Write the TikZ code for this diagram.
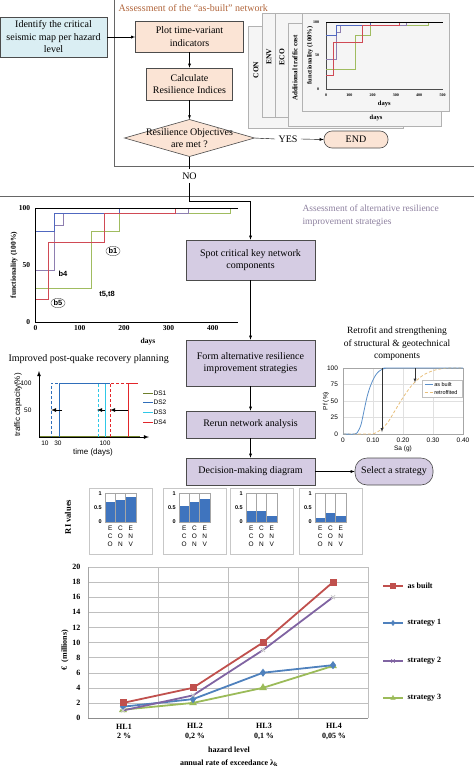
\documentclass[tikz,border=0pt]{standalone}
\usepackage{fontspec}
\setmainfont{Liberation Serif}
\setsansfont{Liberation Sans}
\usetikzlibrary{shapes.geometric, calc, plotmarks, positioning}
\definecolor{peach}{HTML}{FBE4D5}
\definecolor{skyfill}{HTML}{DAEEF3}
\definecolor{lilac}{HTML}{D5CCE3}
\definecolor{rustbrown}{HTML}{B0643A}
\definecolor{greyviolet}{HTML}{8C7F9E}
\definecolor{dsone}{HTML}{6E7F2B}
\definecolor{dstwo}{HTML}{2F6EBA}
\definecolor{dsthree}{HTML}{2EC8E8}
\definecolor{dsfour}{HTML}{E3262A}
\definecolor{curvered}{HTML}{D04A55}
\definecolor{curveblue}{HTML}{5068C0}
\definecolor{curvegreen}{HTML}{A0BC60}
\definecolor{curvepurple}{HTML}{8E7EB0}
\definecolor{asbuiltred}{HTML}{C0504D}
\definecolor{stratblue}{HTML}{4F81BD}
\definecolor{stratpurple}{HTML}{8064A2}
\definecolor{stratgreen}{HTML}{9BBB59}
\definecolor{ribar}{HTML}{3F74BE}
\definecolor{fragblue}{HTML}{5B8FC8}
\definecolor{fragtan}{HTML}{E8BF7A}
% recovery step curves (days, functionality %)
\newcommand\stepRed{(0,20) -- (30,20) -- (30,70) -- (155,70) -- (155,95) -- (315,95) -- (315,100)}
\newcommand\stepBlue{(0,80) -- (42,80) -- (42,95) -- (190,95) -- (190,100)}
\newcommand\stepPurple{(0,45) -- (42,45) -- (42,85) -- (63,85) -- (63,95) -- (345,95) -- (345,100)}
\newcommand\stepGreen{(0,30) -- (125,30) -- (125,80) -- (190,80) -- (190,95) -- (440,95) -- (440,100)}
\newcommand\fsz[1]{\fontsize{#1}{#1}\selectfont}

\begin{document}
\begin{tikzpicture}[x=1pt, y=-1pt, >=latex,
    flow/.style={draw=black!70, semithick, align=center, inner sep=1pt,
      font=\fontsize{10}{12.5}\selectfont},
    asbox/.style={flow, fill=peach},
    altbox/.style={flow, fill=lilac},
    sheet/.style={draw=black!30, fill=black!4},
    framing/.style={draw=black!60, semithick},
    axlbl/.style={font=\bfseries\fontsize{7.5}{9}\selectfont},
    smalltick/.style={font=\sffamily\fontsize{6.5}{7.5}\selectfont},
    chartlbl/.style={font=\bfseries\fontsize{8}{9.5}\selectfont},
    series/.style={line width=1.8pt},
  ]
  \useasboundingbox (0,0) rectangle (474,772);

  % ---- assessment of the as-built network
  \draw[framing] (114,0) -- (114,166) -- (474,166);
  \node[anchor=west, text=rustbrown, font=\fsz{10}] (astitle) at (115,8)
    {Assessment of the “as-built” network};

  \node[flow, fill=skyfill, minimum width=107, minimum height=40] (seis) at (53.5,37)
    {Identify the critical\\seismic map per hazard\\level};
  \node[asbox, minimum width=108, minimum height=31] (plotind) at (189.5,36.5)
    {Plot time-variant\\indicators};
  \node[asbox, minimum width=86, minimum height=32] (calc) at (189.5,84)
    {Calculate\\Resilience Indices};
  \path[draw=black!70, semithick, fill=peach]
    (124.5,138) -- (189.5,119.5) -- (254.5,138) -- (189.5,156.5) -- cycle;
  \node[minimum width=130, minimum height=37, inner sep=0, align=center,
    font=\fontsize{10}{12.5}\selectfont] (obj) at (189.5,138)
    {Resilience Objectives\\are met ?};
  \node[font=\fsz{10}] (yes) at (288,139) {YES};
  \node[asbox, rounded corners=8, minimum width=64, minimum height=17] (end) at (356,139.5) {END};

  \draw[->] (seis.east) -- (seis.east -| plotind.west);
  \draw[->] (plotind) -- (calc);
  \draw[->] (calc) -- (obj.north);
  \draw (obj.east) -- (yes.west);
  \draw[->] (yes.east) -- (end.west);

  % stacked indicator sheets
  \draw[sheet] (248,26) rectangle (403,128);
  \draw[sheet] (262,13) rectangle (420,117);
  \draw[sheet] (275,13) rectangle (425,117);
  \draw[sheet] (288,23) rectangle (441,126);
  \draw[sheet] (302,13) rectangle (449,111);
  \node[rotate=90, font=\bfseries\fsz{7.5}] (concap) at (256,70) {CON};
  \node[rotate=90, font=\bfseries\fsz{7.5}] (envcap) at (269,57) {ENV};
  \node[rotate=90, font=\bfseries\fsz{7.5}] (ecocap) at (282,57) {ECO};
  \node[rotate=90, font=\bfseries\fsz{7}] (costcap) at (295,68) {Additional traffic cost};
  \node[font=\bfseries\fsz{6.5}] (costdays) at (376,118) {days};
  \begin{scope}[shift={(326,89)}, x=0.233pt, y=0.67pt]
    \draw[black!70] (0,100) -- (0,0) -- (502,0);
    \draw[curvegreen] \stepGreen;
    \draw[curvepurple] \stepPurple;
    \draw[curveblue] \stepBlue;
    \draw[curvered] \stepRed;
    \draw[black] (0,100) -- (502,100);
    \foreach \d in {0,100,...,500}
      \node[font=\bfseries\fsz{4}] at (\d,-9) {\d};
    \foreach \p in {0,50,100}
      \node[font=\bfseries\fsz{4}, anchor=east] at (-14,\p) {\p};
    \node[font=\bfseries\fsz{6.5}] at (250,-22) {days};
    \node[rotate=90, font=\bfseries\fsz{6.5}] at (-68,50) {functionality (100\%)};
  \end{scope}

  % ---- assessment of alternative strategies
  \draw[framing] (0,196) -- (474,196);
  \node[anchor=north west, text=greyviolet, align=left, font=\fontsize{9.5}{12.5}\selectfont]
    (alttitle) at (299,201.5) {Assessment of alternative resilience\\improvement strategies};

  \node[font=\fsz{10}] (no) at (189.5,176) {NO};
  \node[altbox, minimum width=129, minimum height=40] (spot) at (250.5,260)
    {Spot critical key network\\components};
  \node[altbox, minimum width=129, minimum height=46] (form) at (250.5,363)
    {Form alternative resilience\\improvement strategies};
  \node[altbox, minimum width=129, minimum height=27] (rerun) at (250.5,424.5)
    {Rerun network analysis};
  \node[altbox, minimum width=129, minimum height=27] (decide) at (250.5,471.5)
    {Decision-making diagram};
  \node[altbox, rounded corners=12, minimum width=78, minimum height=27] (select) at (394,471.5)
    {Select a strategy};

  \coordinate (nobend) at (189.5,201);
  \draw (obj.south) -- (no.north);
  \draw[->] (no.south) -- (nobend) -| (spot.north);
  \draw[->] (spot) -- (form);
  \draw[->] (form) -- (rerun);
  \draw[->] (rerun) -- (decide);
  \draw[->] (decide) -- (select);

  % functionality of critical components
  \begin{scope}[shift={(35.5,322)}, x=0.443pt, y=1.14pt]
    \draw[curvegreen, semithick] \stepGreen;
    \draw[curvepurple, semithick] \stepPurple;
    \draw[curveblue, semithick] \stepBlue;
    \draw[curvered, semithick] \stepRed;
    \draw[black, semithick] (0,100) -- (457,100);
    \draw[black, semithick] (0,100) -- (0,0) -- (457,0);
    \foreach \d in {0,100,...,400}
      \node[axlbl] at (\d,-5.5) {\d};
    \foreach \p in {0,50,100}
      \node[axlbl, anchor=east] at (-4,\p) {\p};
    \node[axlbl] at (254,-17) {days};
    \node[rotate=90, axlbl] at (-48.5,50) {functionality (100\%)};
  \end{scope}
  \node[draw=black!70, ellipse, inner sep=0.6pt, font=\bfseries\sffamily\fsz{7.5}] (bone) at (113,251) {b1};
  \node[font=\bfseries\sffamily\fsz{7.5}] (bfour) at (63,274) {b4};
  \node[font=\bfseries\sffamily\fsz{7.5}] (tfive) at (107,294) {t5,t8};
  \node[draw=black!70, ellipse, inner sep=0.6pt, font=\bfseries\sffamily\fsz{7.5}] (bfive) at (58,303) {b5};

  % recovery planning
  \node[anchor=west, font=\fsz{10}] (rectitle) at (5,359) {Improved post-quake recovery planning};
  \draw[dsthree, thick] (59,437) -- (98,437);
  \draw[dsone, thick] (39,436.5) -- (140,436.5);
  \draw[dstwo, thick, densely dashed] (39,437) -- (51,437) -- (51,383) -- (59,383);
  \draw[dstwo, thick] (59,437) -- (59,383) -- (100,383);
  \draw[dsthree, thick, densely dashed] (98,437) -- (98,383);
  \draw[dsthree, thick] (105,437) -- (105,383);
  \draw[dsfour, thick, densely dashed] (110,437) -- (110,383) -- (128,383);
  \draw[dsfour, thick] (128,437) -- (128,383) -- (138,383);
  \draw[dstwo, thick] (100,383) -- (110,383);
  \draw[thick, ->] (39,437) -- (39,371);
  \draw[thick, ->] (39,437) -- (149,437);
  \draw[thick, ->] (62,410) -- (51,410);
  \draw[thick, ->] (105,410) -- (97,410);
  \draw[thick, ->] (128,410) -- (110,410);
  \node[smalltick, anchor=east] at (35,383) {100};
  \node[smalltick, anchor=east] at (35,410) {50};
  \node[smalltick] at (45,443.5) {10};
  \node[smalltick] at (58,443.5) {30};
  \node[smalltick] at (105,443.5) {100};
  \node[font=\sffamily\fsz{8}] (timelbl) at (93,452) {time (days)};
  \node[rotate=90, font=\sffamily\fsz{8}] (caplbl) at (18,405) {traffic capacity(\%)};
  \foreach \ly/\col/\ds in {393/dsone/DS1, 402/dstwo/DS2, 412/dsthree/DS3, 422/dsfour/DS4} {
    \draw[\col, thick] (143,\ly) -- (153,\ly);
    \node[smalltick, anchor=west, inner sep=0.5pt] at (153,\ly) {\ds};
  }

  % fragility curves
  \node[align=center, font=\fontsize{9.5}{12.5}\selectfont] (rtitle) at (397,344)
    {Retrofit and strengthening\\of structural \& geotechnical\\components};
  \begin{scope}[shift={(343,434)}, x=300pt, y=0.66pt]
    \foreach \s in {0.1,0.2,0.3} \draw[black!12] (\s,0) -- (\s,100);
    \foreach \p in {25,50,75} \draw[black!12] (0,\p) -- (0.4,\p);
    \draw[black!35] (0,0) rectangle (0.4,100);
    \draw[fragtan, thick, densely dashed] plot[smooth] coordinates {(0,0) (0.09,0) (0.11,2) (0.13,8)
      (0.15,18) (0.17,33) (0.19,48) (0.21,62) (0.23,74) (0.25,83) (0.27,90) (0.30,96)
      (0.33,99) (0.36,100) (0.40,100)};
    \draw[fragblue, thick] plot[smooth] coordinates {(0,0) (0.04,0) (0.05,4) (0.06,14)
      (0.07,35) (0.08,56) (0.09,71) (0.10,82) (0.11,90) (0.12,95) (0.13,98) (0.14,99.5)
      (0.16,100) (0.40,100)};
    \draw[->, black!80] (0.13,100) -- (0.13,3);
    \draw[->, black!80] (0.24,100) -- (0.24,78);
    \foreach \s/\t in {0/0, 0.1/0.10, 0.2/0.20, 0.3/0.30, 0.4/0.40}
      \node[smalltick] at (\s,-10) {\t};
    \foreach \p in {0,25,50,75,100}
      \node[smalltick, anchor=east] at (-0.005,\p) {\p};
    \node[smalltick] at (0.2,-23) {Sa (g)};
    \node[smalltick, rotate=90] at (-0.057,50) {Pf (\%)};
    \draw[black!25, fill=white] (0.265,82) rectangle (0.398,56);
    \draw[fragblue, thick] (0.272,75) -- (0.3,75);
    \draw[fragtan, thick, densely dashed] (0.272,63) -- (0.3,63);
    \node[font=\sffamily\fsz{5.5}, anchor=west, inner sep=0.5pt] at (0.302,75) {as built};
    \node[font=\sffamily\fsz{5.5}, anchor=west, inner sep=0.5pt] at (0.302,63) {retroffited};
  \end{scope}

  % RI values per strategy
  \node[rotate=90, font=\bfseries\fsz{8.5}] (rilbl) at (68,517) {RI values};
  \foreach \px/\ea/\eb/\ec in {89/0.7/0.78/0.88, 163/0.55/0.7/0.8, 230/0.4/0.4/0.2, 299/0.15/0.3/0.2} {
    \draw[black!22] (\px,488) rectangle ++(63,66);
    \fill[ribar] ({\px+16},522) rectangle ++(10.33,{-28.5*\ea});
    \fill[ribar] ({\px+26.33},522) rectangle ++(10.33,{-28.5*\eb});
    \fill[ribar] ({\px+36.67},522) rectangle ++(10.33,{-28.5*\ec});
    \draw[black!35] ({\px+16},522) rectangle ++(31,-28.5);
    \draw[black!35] ({\px+26.33},522) -- ++(0,-28.5);
    \draw[black!35] ({\px+36.67},522) -- ++(0,-28.5);
    \node[font=\sffamily\bfseries\fsz{5.5}, anchor=east, inner sep=1pt] at ({\px+14},493.5) {1};
    \node[font=\sffamily\bfseries\fsz{5.5}, anchor=east, inner sep=1pt] at ({\px+14},508) {0.5};
    \node[font=\sffamily\bfseries\fsz{5.5}, anchor=east, inner sep=1pt] at ({\px+14},522) {0};
    \node[font=\sffamily\fontsize{6.5}{8}\selectfont, align=center, anchor=north, inner sep=0]
      at ({\px+21.2},526) {E\\C\\O};
    \node[font=\sffamily\fontsize{6.5}{8}\selectfont, align=center, anchor=north, inner sep=0]
      at ({\px+31.5},526) {C\\O\\N};
    \node[font=\sffamily\fontsize{6.5}{8}\selectfont, align=center, anchor=north, inner sep=0]
      at ({\px+41.8},526) {E\\N\\V};
  }

  % losses per hazard level
  \begin{scope}[shift={(88,718)}, x=70pt, y=7.55pt]
    \foreach \v in {2,4,...,20} \draw[black!25] (0,\v) -- (4,\v);
    \foreach \c in {1,2,3,4} \draw[black!25] (\c,0) -- (\c,20);
    \draw[black!35] (0,0) -- (0,20);
    \draw[black!45] (0,0) -- (4,0);
    \foreach \v in {0,2,...,20}
      \node[chartlbl, anchor=east] at (-0.06,\v) {\v};
    \draw[stratgreen, series] plot[mark=triangle*, mark size=2.8] coordinates {(0.5,1.1) (1.5,2) (2.5,4) (3.5,6.9)};
    \draw[stratblue, series] plot[mark=diamond*, mark size=2.6] coordinates {(0.5,1.5) (1.5,2.5) (2.5,6) (3.5,7)};
    \draw[stratpurple, series] plot[mark=x, mark size=2.8, mark options={black!20, thick}] coordinates {(0.5,1) (1.5,3) (2.5,9) (3.5,16)};
    \draw[asbuiltred, series] plot[mark=square*, mark size=2.6] coordinates {(0.5,2) (1.5,4) (2.5,10) (3.5,18)};
    \node[rotate=90, chartlbl] at (-0.33,9) {€ \ (millions)};
  \end{scope}
  \node[chartlbl, align=center] (hlone) at (124,731.5) {HL1\\2 \%};
  \node[chartlbl, align=center] (hltwo) at (195,731.5) {HL2\\0,2 \%};
  \node[chartlbl, align=center] (hlthree) at (264,731.5) {HL3\\0,1 \%};
  \node[chartlbl, align=center] (hlfour) at (334,731.5) {HL4\\0,05 \%};
  \node[chartlbl] (hazlbl) at (229,750) {hazard level};
  \node[chartlbl] (ratelbl) at (229,763) {annual rate of exceedance λ\textsubscript{k}};
  \foreach \ly/\col/\mk/\txt in {586/asbuiltred/square*/as built, 623/stratblue/diamond*/strategy 1,
      661/stratpurple/x/strategy 2, 698/stratgreen/triangle*/strategy 3} {
    \draw[\col, series] (383,\ly) -- (403,\ly);
    \path[\col] plot[mark=\mk, mark size=2.6] coordinates {(393,\ly)};
    \node[chartlbl, anchor=west] at (404,\ly) {\txt};
  }
\end{tikzpicture}
\end{document}
